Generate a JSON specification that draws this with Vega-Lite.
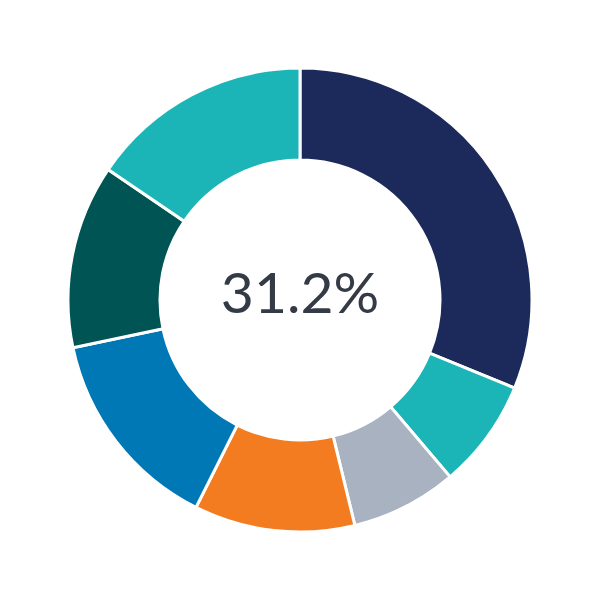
{
  "$schema": "https://vega.github.io/schema/vega-lite/v6.json",
  "width": 600,
  "height": 600,
  "autosize": {"type": "fit", "contains": "padding"},
  "padding": 0,
  "background": "white",
  "config": {"view": {"stroke": null}},
  "data": {"values": [
    {"segment": "A", "value": 31.2, "ord": 1},
    {"segment": "B", "value": 7.6, "ord": 2},
    {"segment": "C", "value": 7.4, "ord": 3},
    {"segment": "D", "value": 11.2, "ord": 4},
    {"segment": "E", "value": 14.3, "ord": 5},
    {"segment": "F", "value": 12.8, "ord": 6},
    {"segment": "G", "value": 15.5, "ord": 7}
  ]},
  "layer": [
    {
      "mark": {"type": "arc", "outerRadius": 232, "innerRadius": 140, "stroke": "white", "strokeWidth": 3},
      "encoding": {
        "theta": {"field": "value", "type": "quantitative", "stack": true},
        "order": {"field": "ord", "type": "quantitative"},
        "color": {
          "field": "segment", "type": "nominal", "legend": null,
          "scale": {
            "domain": ["A", "B", "C", "D", "E", "F", "G"],
            "range": ["#1c2a5b", "#1bb5b8", "#a8b2c0", "#f47c20", "#0078b5", "#005453", "#1bb5b8"]
          }
        }
      }
    },
    {
      "data": {"values": [{"label": "31.2%"}]},
      "mark": {"type": "text", "font": "Lato", "fontSize": 57, "color": "#343b46", "align": "center", "baseline": "middle", "dy": -4},
      "encoding": {"text": {"field": "label"}}
    }
  ]
}
